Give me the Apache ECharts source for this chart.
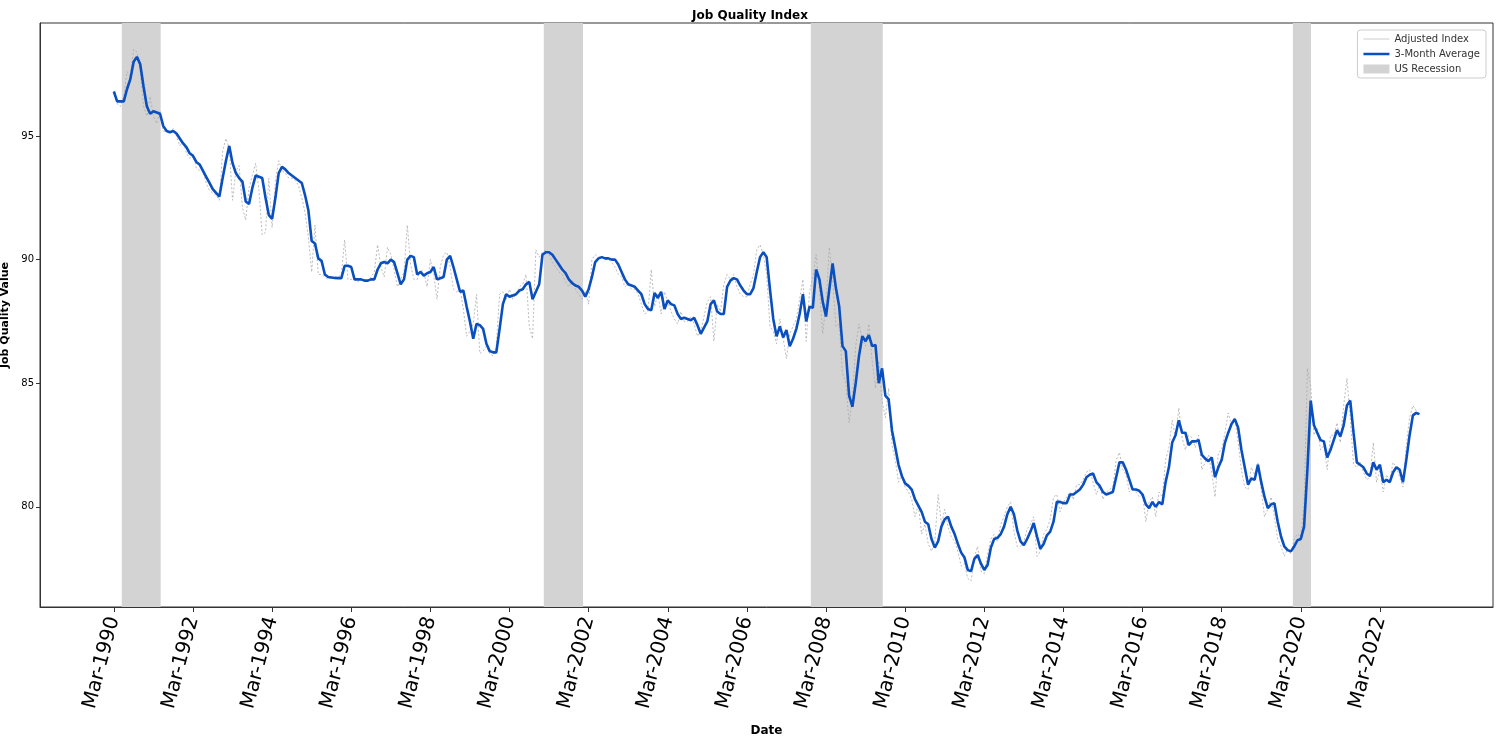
<!DOCTYPE html>
<html><head><meta charset="utf-8">
<script src="https://cdn.jsdelivr.net/npm/echarts@6/dist/echarts.min.js"></script>
<style>html,body{margin:0;padding:0;background:#fff}#c{width:1500px;height:746px}</style>
</head><body><div id="c"></div>
<script>
// monthly, starting Mar-1990 (month index 0)
const avg3 = [
96.8,96.4,96.4,96.4,96.9,97.3,98.0,98.2,97.9,97.0,96.2,95.9,
96.0,95.95,95.9,95.4,95.2,95.15,95.2,95.1,94.9,94.7,94.55,94.3,
94.2,93.95,93.85,93.6,93.35,93.1,92.85,92.7,92.55,93.3,94.0,94.6,
93.9,93.5,93.3,93.15,92.35,92.25,92.9,93.4,93.35,93.3,92.5,91.8,
91.65,92.5,93.5,93.75,93.65,93.5,93.4,93.3,93.2,93.1,92.6,92.0,
90.75,90.65,90.05,89.95,89.4,89.3,89.28,89.26,89.25,89.25,89.75,89.75,
89.7,89.2,89.2,89.2,89.15,89.15,89.2,89.2,89.6,89.85,89.9,89.85,
90.0,89.9,89.45,89.0,89.2,90.0,90.15,90.1,89.4,89.5,89.35,89.45,
89.5,89.7,89.2,89.25,89.3,90.0,90.15,89.7,89.2,88.7,88.75,88.1,
87.5,86.8,87.4,87.35,87.2,86.6,86.3,86.25,86.25,87.2,88.2,88.6,
88.5,88.55,88.6,88.75,88.8,89.0,89.1,88.4,88.7,89.0,90.2,90.3,
90.3,90.2,90.0,89.8,89.6,89.45,89.2,89.05,88.95,88.9,88.75,88.5,
88.8,89.3,89.9,90.05,90.1,90.05,90.05,90.0,90.0,89.8,89.5,89.2,
89.0,88.95,88.9,88.75,88.6,88.2,88.0,87.95,88.65,88.45,88.7,88.0,
88.35,88.2,88.15,87.8,87.6,87.65,87.6,87.55,87.65,87.35,87.0,87.25,
87.5,88.2,88.35,87.9,87.8,87.8,88.9,89.15,89.25,89.2,88.95,88.75,
88.6,88.6,88.85,89.5,90.1,90.3,90.1,88.8,87.6,86.9,87.3,86.85,
87.15,86.5,86.8,87.2,87.8,88.6,87.5,88.1,88.05,89.6,89.2,88.3,
87.7,88.8,89.85,88.85,88.1,86.5,86.3,84.5,84.05,85.0,86.1,86.9,
86.7,86.95,86.5,86.55,85.0,85.6,84.5,84.35,83.1,82.4,81.7,81.25,
80.95,80.85,80.7,80.3,80.05,79.8,79.4,79.3,78.7,78.35,78.6,79.2,
79.5,79.6,79.2,78.9,78.5,78.15,77.95,77.45,77.4,77.9,78.05,77.7,
77.45,77.65,78.35,78.7,78.75,78.9,79.2,79.7,80.0,79.7,79.05,78.6,
78.45,78.7,79.0,79.35,78.8,78.3,78.5,78.85,79.0,79.4,80.2,80.2,
80.15,80.15,80.5,80.5,80.6,80.7,80.9,81.2,81.3,81.35,81.0,80.85,
80.6,80.5,80.55,80.6,81.2,81.8,81.8,81.5,81.1,80.7,80.7,80.65,
80.5,80.1,79.95,80.2,80.0,80.2,80.1,81.0,81.6,82.6,82.9,83.5,
83.0,83.0,82.5,82.65,82.65,82.7,82.1,81.95,81.85,82.0,81.2,81.6,
81.9,82.6,83.0,83.35,83.55,83.2,82.3,81.6,80.9,81.15,81.1,81.7,
81.0,80.4,79.95,80.1,80.15,79.4,78.8,78.4,78.25,78.2,78.4,78.65,
78.7,79.2,81.5,84.3,83.3,83.0,82.7,82.65,82.0,82.3,82.7,83.1,
82.85,83.3,84.1,84.3,83.0,81.8,81.7,81.6,81.35,81.25,81.8,81.5,
81.7,81.0,81.1,81.0,81.4,81.6,81.5,81.0,81.9,82.9,83.7,83.8,
83.75];
const adjusted = [
96.8,96.3,96.2,96.6,97.6,97.4,98.5,98.4,97.6,96.2,95.8,96.6,
95.8,95.5,96.0,95.2,95.2,95.1,95.3,95.0,94.6,94.8,94.3,94.1,
94.3,93.7,93.6,93.6,93.1,92.8,92.7,92.6,92.4,94.4,94.9,94.5,
92.4,93.6,93.8,92.1,91.6,92.9,93.4,93.9,92.8,91.0,91.1,93.3,
91.3,93.2,94.0,93.6,93.5,93.3,93.3,93.2,93.0,92.5,91.9,90.9,
89.5,91.4,89.4,89.4,89.3,89.2,89.3,89.2,89.3,89.4,90.8,89.2,
89.2,89.2,89.1,89.2,89.2,89.1,89.3,89.5,90.6,89.7,89.3,90.5,
90.2,89.6,88.9,89.2,89.5,91.4,89.8,89.2,89.2,89.6,89.5,88.9,
90.0,89.4,88.4,89.7,90.2,90.3,89.7,88.8,88.7,88.8,88.0,86.9,
87.1,87.4,88.6,86.2,86.3,86.5,86.2,86.1,86.5,88.6,88.7,88.4,
88.8,88.4,88.6,88.9,89.0,89.4,87.3,86.8,90.4,90.1,90.3,90.4,
90.2,89.9,89.7,89.5,89.4,89.1,88.9,89.2,88.8,88.6,88.4,88.7,
88.2,90.0,90.2,90.1,90.1,90.0,90.0,89.9,89.7,89.4,89.3,88.9,
89.0,88.8,88.8,88.6,88.2,87.8,87.9,89.6,88.1,88.6,87.8,88.7,
88.3,87.9,87.6,87.4,87.9,87.5,87.5,87.7,87.4,86.9,87.1,87.7,
88.3,88.5,86.7,88.2,87.9,89.0,89.4,89.2,89.4,88.9,88.6,88.5,
88.5,89.0,89.4,90.4,90.6,90.2,89.4,87.3,87.1,86.6,87.6,86.8,
86.0,87.0,87.3,87.6,88.4,89.2,86.7,88.7,89.3,90.2,88.8,87.0,
88.2,90.5,89.2,87.3,87.4,85.4,85.0,83.4,84.4,86.5,87.4,86.8,
86.5,87.4,85.9,84.8,85.9,84.3,83.6,84.8,82.5,81.9,81.0,81.3,
80.8,80.6,80.3,79.6,80.1,78.9,79.3,78.5,78.2,78.6,80.5,79.3,
79.9,79.2,78.8,78.6,78.2,77.6,77.7,77.1,77.0,78.0,78.4,77.4,
77.3,78.1,78.7,78.9,78.6,79.3,79.6,80.0,80.2,79.0,78.4,78.4,
78.6,79.1,79.3,79.6,78.0,78.2,78.9,79.1,79.5,80.4,80.5,79.8,
80.2,80.4,80.6,80.3,80.9,80.9,81.1,81.4,81.5,81.0,80.5,80.9,
80.3,80.6,80.7,80.8,81.9,82.2,81.5,81.3,80.6,80.8,80.6,80.4,
80.5,79.4,80.2,80.4,79.6,80.6,80.4,81.9,82.4,83.5,82.8,84.0,
82.8,82.3,82.9,82.8,82.4,82.9,81.5,81.8,82.1,81.4,80.4,82.2,
82.3,83.0,83.8,83.3,83.6,82.6,81.5,80.8,80.7,81.6,81.3,81.8,
80.7,79.6,79.9,80.4,79.6,78.7,78.4,78.0,78.3,78.1,78.7,78.9,
78.8,80.1,85.6,84.9,82.9,83.2,82.3,82.5,81.5,82.9,82.9,83.4,
82.6,84.1,85.2,83.6,81.7,81.6,81.8,81.4,81.1,81.2,82.6,81.0,
81.5,80.6,81.3,81.1,81.8,81.6,81.2,80.8,82.5,83.6,84.1,83.9,
83.7];
// recession spans in months since Mar-1990
const recessions = [[2.4,14.2],[130.4,142.3],[211.4,233.2],[357.6,363.1]];
const xTicks = [0,24,48,72,96,120,144,168,192,216,240,264,288,312,336,360,384];
const yTicks = [80,85,90,95];

const chart = echarts.init(document.getElementById('c'));
const toPts = a => a.map((v,i)=>[i,v]);
const font = 'DejaVu Sans';
chart.setOption({
  animation:false,
  title:{text:'Job Quality Index',left:'center',top:5,textStyle:{fontFamily:font,fontSize:12,fontWeight:'bold',color:'#000'}},
  grid:{left:40,right:7,top:23,bottom:139,outerBoundsMode:'none',containLabel:false,show:true,borderColor:'#333',borderWidth:1,backgroundColor:'transparent'},
  legend:{orient:'vertical',right:14,top:30,itemWidth:26,itemHeight:9,itemGap:5,
    borderColor:'#ccc',borderWidth:1,borderRadius:3,padding:[4,6],
    textStyle:{fontFamily:font,fontSize:10,color:'#333'},
    data:[{name:'Adjusted Index',icon:'path://M0,5L26,5L26,5.6L0,5.6Z'},
          {name:'3-Month Average',icon:'path://M0,4L26,4L26,6.5L0,6.5Z'},
          {name:'US Recession',icon:'rect'}]},
  xAxis:{type:'value',min:-22.4,max:418.3,name:'Date',nameLocation:'middle',nameGap:118,
    nameTextStyle:{fontFamily:font,fontSize:12,fontWeight:'bold',color:'#000'},
    axisLine:{show:true,onZero:false,lineStyle:{color:'#333'}},splitLine:{show:false},
    axisTick:{show:true,customValues:xTicks,length:5,lineStyle:{color:'#333'}},
    axisLabel:{customValues:xTicks,rotate:75,fontFamily:font,fontSize:20,color:'#000',margin:10,
      formatter:v=>'Mar-'+(1990+Math.round(v)/12)}},
  yAxis:{type:'value',min:75.95,max:99.57,name:'Job Quality Value',nameLocation:'middle',nameGap:26,
    nameTextStyle:{fontFamily:font,fontSize:11,fontWeight:'bold',color:'#000'},
    axisLine:{show:true,onZero:false,lineStyle:{color:'#333'}},splitLine:{show:false},
    axisTick:{show:true,customValues:yTicks,length:4,lineStyle:{color:'#333'}},
    axisLabel:{customValues:yTicks,fontFamily:font,fontSize:10,color:'#000',margin:6}},
  series:[
    {name:'US Recession',type:'line',data:[],itemStyle:{color:'#d3d3d3'},lineStyle:{color:'#d3d3d3'},
      markArea:{silent:true,itemStyle:{color:'#d3d3d3'},data:recessions.map(r=>[{xAxis:r[0]},{xAxis:r[1]}])}},
    {name:'Adjusted Index',type:'line',data:toPts(adjusted),showSymbol:false,z:3,
      lineStyle:{color:'#aaaaaa',width:0.8,type:[2,2]},itemStyle:{color:'#aaaaaa'}},
    {name:'3-Month Average',type:'line',data:toPts(avg3),showSymbol:false,z:4,
      lineStyle:{color:'#0a4fc0',width:2.6},itemStyle:{color:'#0a4fc0'}}
  ]
});
</script></body></html>
